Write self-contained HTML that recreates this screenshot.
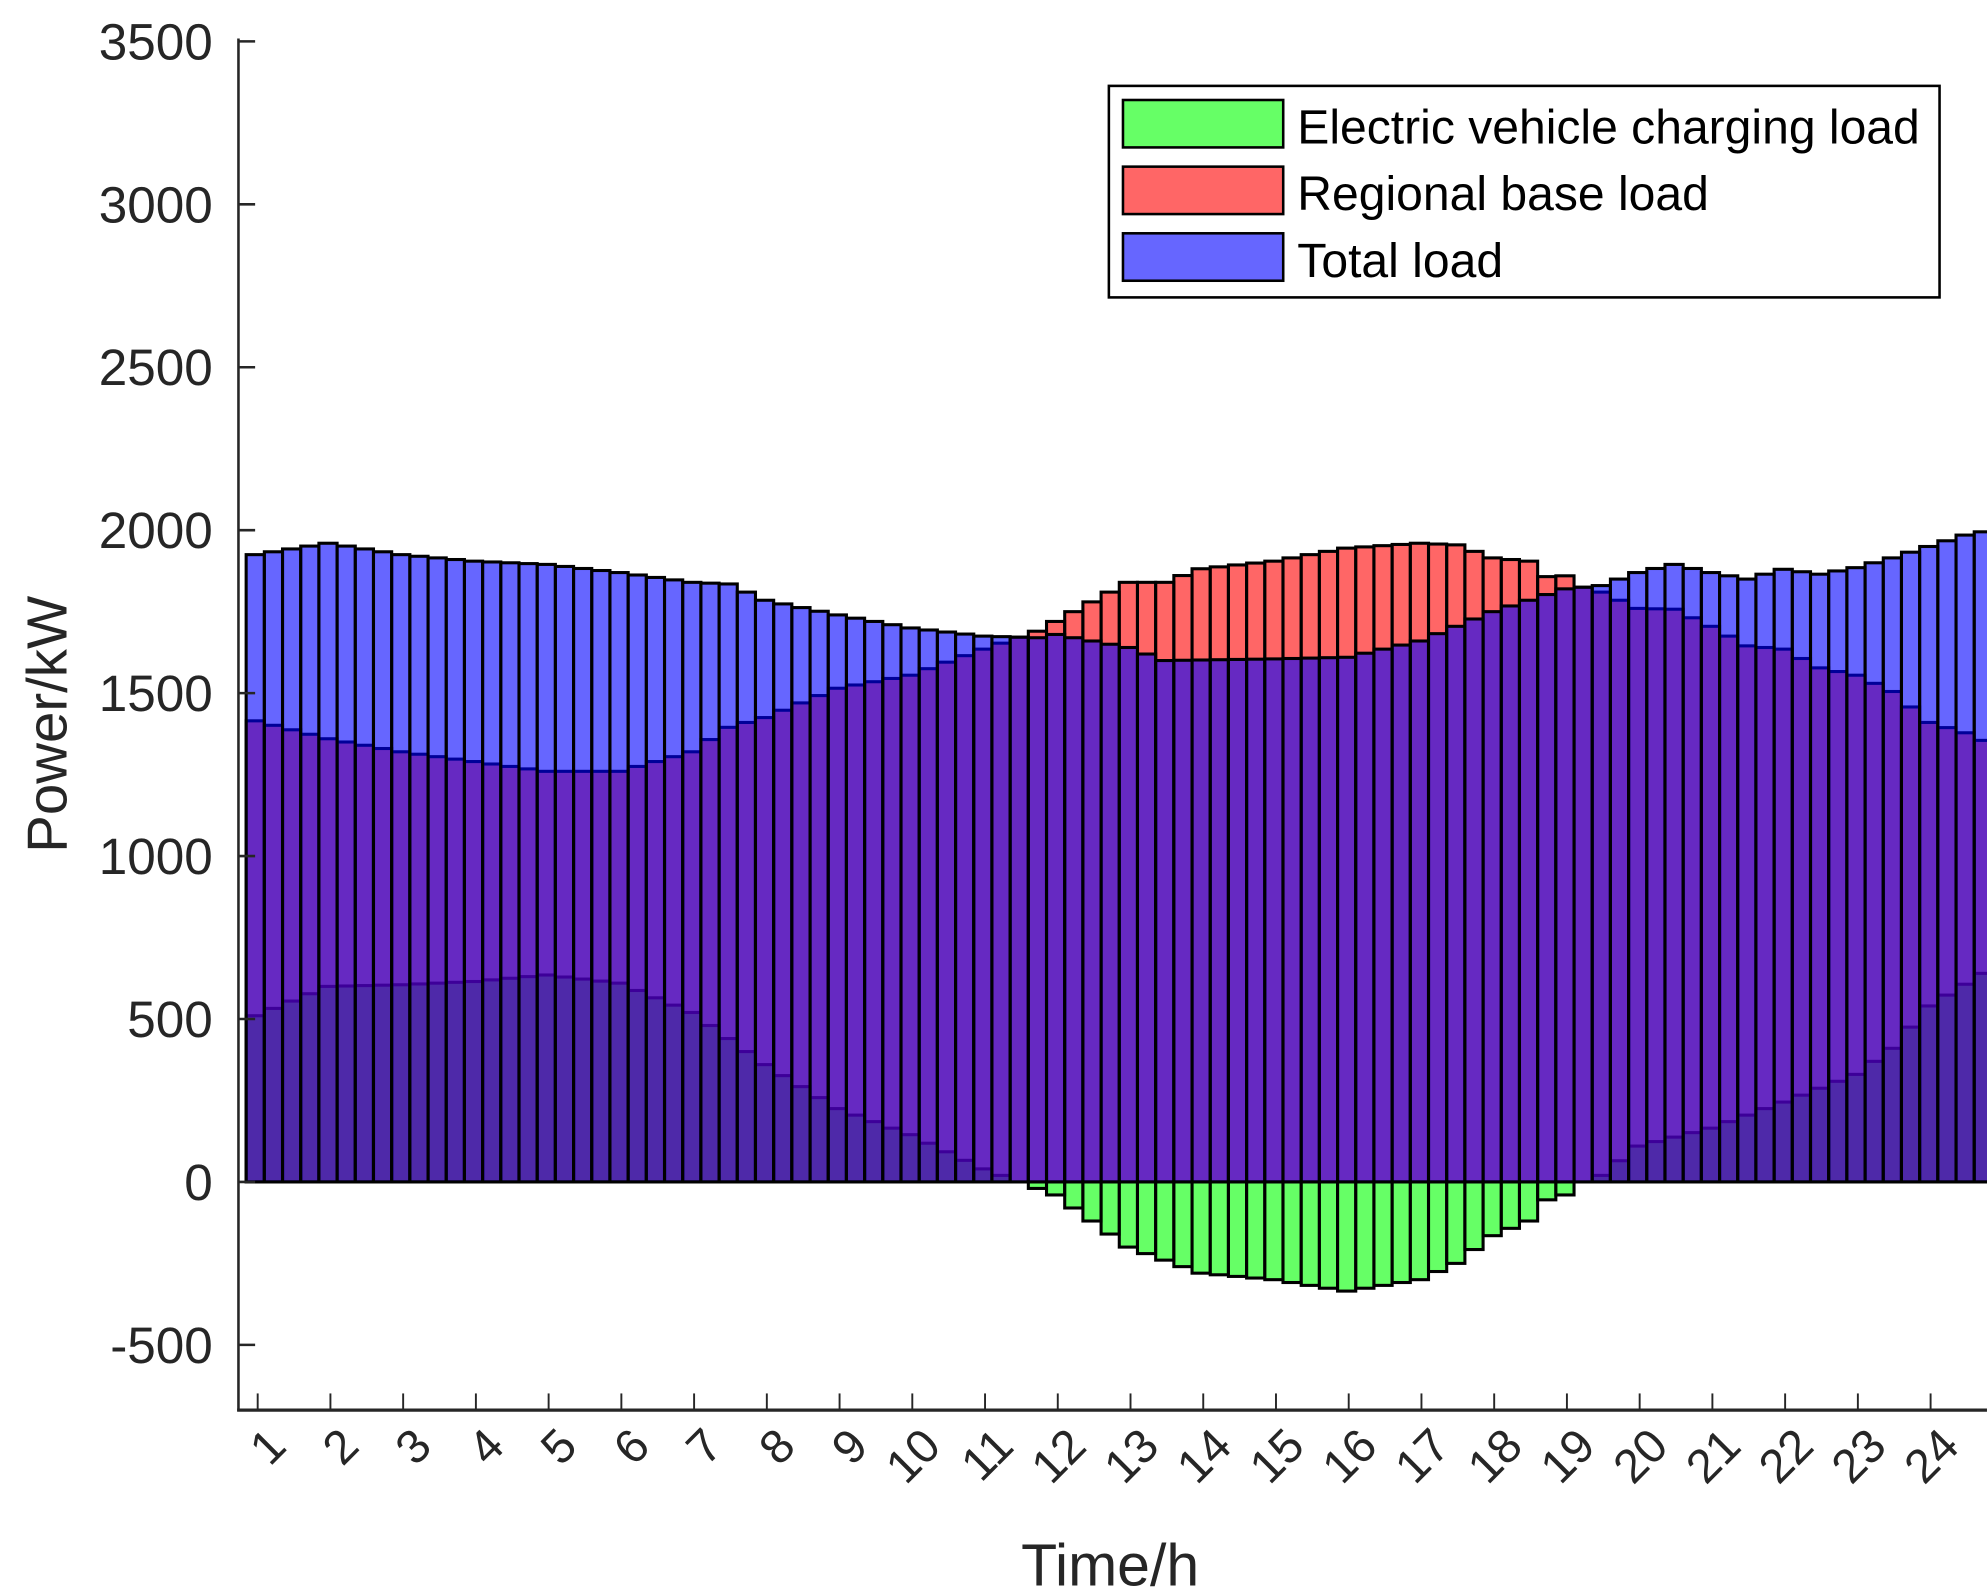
<!DOCTYPE html>
<html><head><meta charset="utf-8"><style>
html,body{margin:0;padding:0;background:#fff;}
svg{display:block;}
text{font-family:"Liberation Sans",Arial,sans-serif;fill:#262626;}
</style></head><body>
<svg id="s" width="1987" height="1587" viewBox="0 0 1550 1238" xmlns="http://www.w3.org/2000/svg">
<g id="bars"></g>
<g id="axes"></g>
<rect x="865" y="67" width="648" height="165" fill="#fff" stroke="#000" stroke-width="2"/>
<rect x="876" y="78" width="125" height="37" fill="#66FF66" stroke="#000" stroke-width="2"/>
<rect x="876" y="130" width="125" height="37" fill="#FF6666" stroke="#000" stroke-width="2"/>
<rect x="876" y="182" width="125" height="37" fill="#6666FF" stroke="#000" stroke-width="2"/>
<text x="1012" y="112" font-size="37.5" style="fill:#000">Electric vehicle charging load</text>
<text x="1012" y="164" font-size="37.5" style="fill:#000">Regional base load</text>
<text x="1012" y="216" font-size="37.5" style="fill:#000">Total load</text>
<text x="866" y="1237" font-size="46" text-anchor="middle">Time/h</text>
<text transform="translate(52,565) rotate(-90)" font-size="44" text-anchor="middle">Power/kW</text>
</svg>
<script>
function interp(a,i){var k=Object.keys(a).map(Number).sort(function(x,y){return x-y});
for(var j=0;j<k.length-1;j++){if(i>=k[j]&&i<=k[j+1]){var t=(i-k[j])/(k[j+1]-k[j]);return a[k[j]]+(a[k[j+1]]-a[k[j]])*t;}}return a[k[k.length-1]];}
var T={0:1925,4:1960,8:1925,12:1905,16:1895,20:1870,24:1840,26:1835,28:1785,32:1740,36:1700,40:1675,43:1670,44:1680,48:1640,50:1600,56:1605,60:1610,64:1660,68:1750,72:1820,74:1830,76:1870,78:1895,80:1870,82:1850,84:1880,86:1865,88:1885,90:1915,92:1950,94:1985,95:1995};
var E={0:510,4:600,8:605,12:615,16:635,20:610,24:520,28:360,32:225,36:145,40:40,44:-40,46:-120,48:-200,52:-280,56:-300,60:-335,64:-300,66:-250,68:-165,70:-120,71:-55,72:-40,73:0,74:20,76:110,80:165,84:245,88:330,90:410,92:540,95:640};
function Y(v){return 922-v*0.2542;}
var g=document.getElementById('bars');
var layers=[[],[],[]];
for(var i=0;i<96;i++){
 var t=interp(T,i),e=interp(E,i),b=t-e;
 var x=199+i*14.19-7;
 layers[0].push([x,e]);layers[1].push([x,b]);layers[2].push([x,t]);
}
var cols=['#00FF00','#FF0000','#0000FF'];
var html='';
for(var L=0;L<3;L++){
 layers[L].forEach(function(p){
  var y1=Y(p[1]),y0=Y(0);var top=Math.min(y1,y0),h=Math.abs(y1-y0);
  html+='<rect x="'+p[0].toFixed(2)+'" y="'+top.toFixed(2)+'" width="14.19" height="'+h.toFixed(2)+'" fill="'+cols[L]+'" fill-opacity="0.6" stroke="#000" stroke-width="2.4"/>';
 });
}
g.innerHTML=html;
var a='';
a+='<line x1="186" y1="30" x2="186" y2="1101" stroke="#262626" stroke-width="2"/>';
a+='<line x1="185" y1="1100" x2="1550" y2="1100" stroke="#262626" stroke-width="2.5"/>';
for(var v=-500;v<=3500;v+=500){var y=Y(v);
 a+='<line x1="186" y1="'+y+'" x2="199" y2="'+y+'" stroke="#262626" stroke-width="2"/>';
 a+='<text x="166" y="'+(y+14)+'" font-size="40" text-anchor="end">'+v+'</text>';}
for(var h=1;h<=24;h++){var x=201+(h-1)*56.74;
 a+='<line x1="'+x+'" y1="1100" x2="'+x+'" y2="1087" stroke="#262626" stroke-width="1.5"/>';
 a+='<text transform="translate('+(x+24)+',1130) rotate(-45)" font-size="37" text-anchor="end">'+h+'</text>';}
document.getElementById('axes').innerHTML=a;
</script>
</body></html>
